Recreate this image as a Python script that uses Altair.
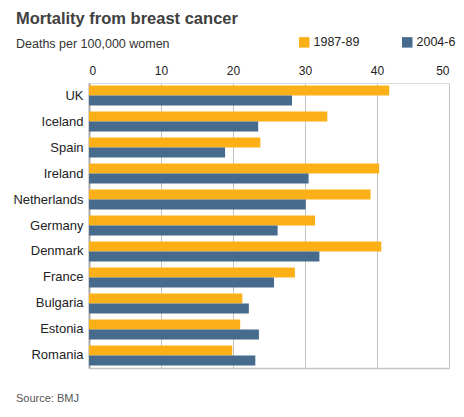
"""Mortality from breast cancer: grouped horizontal bars, two periods per country."""

import pandas as pd
import altair as alt

FONT = 'Liberation Sans'

countries = ['UK', 'Iceland', 'Spain', 'Ireland', 'Netherlands', 'Germany',
             'Denmark', 'France', 'Bulgaria', 'Estonia', 'Romania']
periods = ['1987-89', '2004-6']
rate_1987 = [41.7, 33.1, 23.8, 40.3, 39.1, 31.4, 40.6, 28.6, 21.3, 21.0, 19.9]
rate_2004 = [28.2, 23.5, 18.9, 30.5, 30.1, 26.2, 32.0, 25.7, 22.2, 23.6, 23.1]
x_ticks = [0, 10, 20, 30, 40, 50]
source_text = ['Source: BMJ']

df = pd.concat([
    pd.DataFrame({'country': countries, 'period': periods[0], 'rate': rate_1987}),
    pd.DataFrame({'country': countries, 'period': periods[1], 'rate': rate_2004}),
])

x_scale = alt.Scale(domain=[0, 50], nice=False, zero=True)

bars = (
    alt.Chart(df)
    .mark_bar()
    .encode(
        x=alt.X('rate:Q', scale=x_scale, title=None,
                axis=alt.Axis(orient='top', values=x_ticks, domain=False, ticks=False,
                              grid=True, gridColor='#c4c4c4', labelPadding=6,
                              labelFontSize=12, labelColor='#222', labelFont=FONT)),
        y=alt.Y('country:N', sort=countries, title=None,
                scale=alt.Scale(paddingInner=0.23, paddingOuter=0.1),
                axis=alt.Axis(ticks=False, domainColor='#a8a8a8', domainWidth=2,
                              labelPadding=6, labelFontSize=13, labelColor='#222',
                              labelFont=FONT)),
        yOffset=alt.YOffset('period:N', sort=periods),
        color=alt.Color('period:N', sort=periods, title=None,
                        scale=alt.Scale(domain=periods, range=['#fbb018', '#476b8c']),
                        legend=alt.Legend(orient='none', direction='horizontal',
                                          legendX=209, legendY=-47, padding=0,
                                          symbolType='square', symbolSize=110,
                                          symbolStrokeWidth=0, symbolOpacity=1,
                                          labelOffset=3, columnPadding=41,
                                          labelFontSize=12.5, labelColor='#222',
                                          labelFont=FONT)),
    )
)

# invisible layer carrying a bottom axis that draws the bottom frame line
bottom = (
    alt.Chart(df)
    .mark_tick(opacity=0)
    .encode(
        x=alt.X('rate:Q', scale=x_scale, title=None,
                axis=alt.Axis(orient='bottom', labels=False, ticks=False, grid=False,
                              domainColor='#c4c4c4', domainWidth=1.5)),
    )
)

source = (
    alt.Chart(pd.DataFrame({'t': source_text}))
    .mark_text(align='left', baseline='alphabetic', font=FONT, fontSize=11, color='#555')
    .encode(text='t:N', x=alt.value(-73), y=alt.value(319))
)

chart = (
    alt.layer(bars, bottom, source)
    .resolve_axis(x='independent')
    .properties(
        width=360,
        height=285,
        padding={'left': 81, 'top': 75, 'right': 7, 'bottom': 36},
        autosize=alt.AutoSizeParams(type='none'),
        title=alt.TitleParams(
            text='Mortality from breast cancer',
            subtitle='Deaths per 100,000 women',
            anchor='start', frame='group', dx=-73, offset=-14,
            font=FONT, fontSize=16.5, fontWeight='bold', color='#404040',
            subtitleFont=FONT, subtitleFontSize=12.5, subtitleColor='#333',
            subtitlePadding=10,
        ),
    )
    .configure_view(stroke=None)
    .configure(background='white')
)

chart.save('out.html', embed_options={'renderer': 'svg', 'actions': False})
